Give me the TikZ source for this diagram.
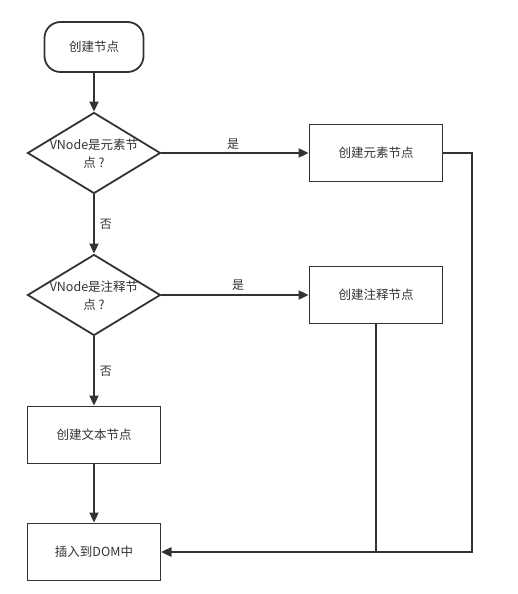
\documentclass[tikz,border=0pt]{standalone}
\usepackage{fontspec}
\setmainfont{Noto Sans CJK SC}
\usetikzlibrary{shapes.geometric,arrows.meta}
\definecolor{ink}{HTML}{333333}
\begin{document}
\begin{tikzpicture}[x=1pt,y=-1pt,
  every node/.style={font=\fontsize{12.5pt}{15pt}\selectfont, text=ink},
  line/.style={draw=ink, line width=1.8pt},
  arr/.style={line, -{Triangle[length=10pt,width=9pt]}},
  box/.style={draw=ink, line width=1.8pt, minimum width=133pt, minimum height=57pt, inner sep=0pt},
  startbox/.style={box, minimum width=99pt, minimum height=50pt, rounded corners=16pt},
  dia/.style={draw=ink, line width=1.8pt, diamond, minimum width=133pt, minimum height=81pt, inner sep=0pt},
  dtext/.style={align=center, font=\fontsize{12.5pt}{18pt}\selectfont},
  lbl/.style={font=\fontsize{12pt}{14pt}\selectfont, inner sep=3pt}
]
\useasboundingbox (0,0) rectangle (517,594);
\node[startbox] (start) at (94,47) {创建节点};
\node[dia] (d1) at (94,153) {};
\node[dtext] (d1t) at (94,154) {VNode是元素节\\点 ?};
\node[box] (b1) at (376,153) {创建元素节点};
\node[dia] (d2) at (94,295) {};
\node[dtext] (d2t) at (94,296) {VNode是注释节\\点 ?};
\node[box] (b2) at (376,295) {创建注释节点};
\node[box] (b3) at (94,435) {创建文本节点};
\node[box] (b4) at (94,552) {插入到DOM中};
\coordinate (r1) at (472,0);

\draw[arr] (start) -- (d1);
\draw[arr] (d1.east) -- node[lbl, midway, above, xshift=-2pt] (y1) {是} (b1.west);
\draw[arr] (d1.south) -- node[lbl, midway, right, xshift=2pt] (n1) {否} (d2.north);
\draw[arr] (d2.east) -- node[lbl, midway, above, xshift=3pt, yshift=1pt] (y2) {是} (b2.west);
\draw[arr] (d2.south) -- node[lbl, midway, right, xshift=2pt] (n2) {否} (b3.north);
\draw[arr] (b3) -- (b4);
\draw[arr] (b1.east) -- (b1.east -| r1) -- (r1 |- b4.east) -- (b4.east);
\draw[arr] (b2.south) -- (b2.south |- b4.east) -- (b4.east);
\end{tikzpicture}
\end{document}
